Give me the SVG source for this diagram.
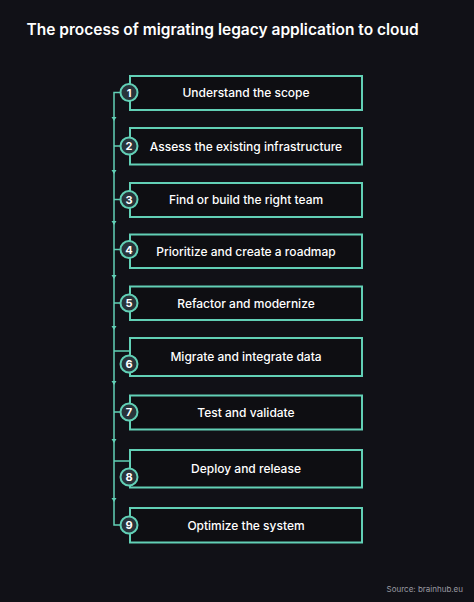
<svg xmlns="http://www.w3.org/2000/svg" width="474" height="602" viewBox="0 0 474 602">
<defs>
<style>
.bg{fill:#111117}
.box{fill:#0e0e12;stroke:#62d0b6;stroke-width:2}
.num{fill:#28343b;stroke:#62d0b6;stroke-width:2}
.lbl{font-family:Inter,"Noto Sans","Liberation Sans",sans-serif;font-size:12px;font-weight:500;fill:#ffffff;text-anchor:middle}
.n{font-family:Inter,"Noto Sans","Liberation Sans",sans-serif;font-size:11px;font-weight:700;fill:#ffffff;text-anchor:middle}
.wire{fill:none;stroke:#62d0b6;stroke-width:1.5}
.arr{fill:#62d0b6}
</style>
</defs>
<rect class="bg" x="0" y="0" width="474" height="602"/>
<text x="26.5" y="34.5" font-family="Inter,'Noto Sans','Liberation Sans',sans-serif" font-size="15.5" font-weight="600" fill="#ffffff">The process of migrating legacy application to cloud</text>

<g id="connectors">
<path class="wire" d="M121,92.5 H114 V525 H121"/>
<path class="wire" d="M114,146 H121"/>
<path class="wire" d="M114,199.5 H121"/>
<path class="wire" d="M114,249.5 H121"/>
<path class="wire" d="M114,303 H121"/>
<path class="wire" d="M114,351 H130"/>
<path class="wire" d="M114,412 H121"/>
<path class="wire" d="M114,461 H130"/>
<path class="arr" d="M111.5,117 h5 l-2.5,4 z"/>
<path class="arr" d="M111.5,170 h5 l-2.5,4 z"/>
<path class="arr" d="M111.5,221 h5 l-2.5,4 z"/>
<path class="arr" d="M111.5,275 h5 l-2.5,4 z"/>
<path class="arr" d="M111.5,326 h5 l-2.5,4 z"/>
<path class="arr" d="M111.5,381 h5 l-2.5,4 z"/>
<path class="arr" d="M111.5,439 h5 l-2.5,4 z"/>
<path class="arr" d="M111.5,498 h5 l-2.5,4 z"/>
</g>

<g id="step1">
<rect class="box" x="130" y="76" width="232" height="34"/>
<text class="lbl" x="246" y="97">Understand the scope</text>
<circle class="num" cx="129" cy="92.5" r="8.5"/>
<text class="n" x="129" y="96.5">1</text>
</g>
<g id="step2">
<rect class="box" x="130" y="128" width="232" height="36.5"/>
<text class="lbl" x="246" y="150.5">Assess the existing infrastructure</text>
<circle class="num" cx="129" cy="146" r="8.5"/>
<text class="n" x="129" y="150">2</text>
</g>
<g id="step3">
<rect class="box" x="130" y="183" width="232" height="34"/>
<text class="lbl" x="246" y="204">Find or build the right team</text>
<circle class="num" cx="129" cy="199.5" r="8.5"/>
<text class="n" x="129" y="203.5">3</text>
</g>
<g id="step4">
<rect class="box" x="130" y="234.5" width="232" height="33.5"/>
<text class="lbl" x="246" y="255.5">Prioritize and create a roadmap</text>
<circle class="num" cx="129" cy="249.5" r="8.5"/>
<text class="n" x="129" y="253.5">4</text>
</g>
<g id="step5">
<rect class="box" x="130" y="286.5" width="232" height="33.5"/>
<text class="lbl" x="246" y="307.5">Refactor and modernize</text>
<circle class="num" cx="129" cy="303" r="8.5"/>
<text class="n" x="129" y="307">5</text>
</g>
<g id="step6">
<rect class="box" x="130" y="338" width="232" height="38"/>
<text class="lbl" x="246" y="361">Migrate and integrate data</text>
<circle class="num" cx="129" cy="364" r="8.5"/>
<text class="n" x="129" y="368">6</text>
</g>
<g id="step7">
<rect class="box" x="130" y="395.5" width="232" height="34"/>
<text class="lbl" x="246" y="416.5">Test and validate</text>
<circle class="num" cx="129" cy="412" r="8.5"/>
<text class="n" x="129" y="416">7</text>
</g>
<g id="step8">
<rect class="box" x="130" y="450" width="232" height="37.5"/>
<text class="lbl" x="246" y="472.5">Deploy and release</text>
<circle class="num" cx="129" cy="477" r="8.5"/>
<text class="n" x="129" y="481">8</text>
</g>
<g id="step9">
<rect class="box" x="130" y="508" width="232" height="34.5"/>
<text class="lbl" x="246" y="529.5">Optimize the system</text>
<circle class="num" cx="129" cy="525" r="8.5"/>
<text class="n" x="129" y="529">9</text>
</g>

<text x="463" y="592" text-anchor="end" font-family="Inter,'Noto Sans','Liberation Sans',sans-serif" font-size="8" fill="#9a9aa2">Source: brainhub.eu</text>
</svg>
